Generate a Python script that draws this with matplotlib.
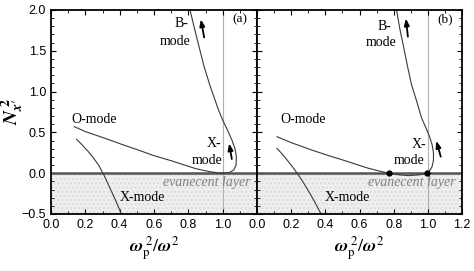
import numpy as np
import matplotlib.pyplot as plt

plt.rcParams['mathtext.fontset'] = 'stix'

# panel (a)
a_omode_x = [0.136, 0.2, 0.314, 0.41, 0.508, 0.6, 0.70, 0.77, 0.837, 0.89, 0.934, 0.97, 1.0]
a_omode_y = [0.57, 0.51, 0.428, 0.355, 0.284, 0.215, 0.153, 0.105, 0.06, 0.033, 0.016, 0.005, 0.0]
a_xlow_x = [0.149, 0.18, 0.215, 0.25, 0.28, 0.31, 0.345, 0.38, 0.41]
a_xlow_y = [0.415, 0.35, 0.27, 0.18, 0.09, -0.03, -0.19, -0.35, -0.5]
a_bmode_x = [1.0, 1.04, 1.065, 1.078, 1.08, 1.072, 1.055, 1.03, 1.0, 0.975, 0.955, 0.925, 0.89, 0.86, 0.835, 0.81]
a_bmode_y = [0.0, 0.01, 0.04, 0.10, 0.20, 0.30, 0.40, 0.52, 0.65, 0.78, 0.90, 1.08, 1.32, 1.57, 1.78, 2.0]

# panel (b)
b_omode_x = [0.117, 0.2, 0.32, 0.42, 0.516, 0.6, 0.653, 0.72, 0.77, 0.83, 0.887, 0.95, 0.994]
b_omode_y = [0.447, 0.375, 0.284, 0.215, 0.153, 0.095, 0.06, 0.025, 0.0, -0.02, -0.03, -0.02, 0.0]
b_xlow_x = [0.117, 0.145, 0.175, 0.205, 0.235, 0.27, 0.305, 0.34, 0.375]
b_xlow_y = [0.305, 0.24, 0.165, 0.085, 0.0, -0.11, -0.23, -0.36, -0.5]
b_bmode_x = [0.994, 1.01, 1.025, 1.033, 1.033, 1.025, 1.01, 0.99, 0.963, 0.935, 0.905, 0.88, 0.856, 0.835, 0.817]
b_bmode_y = [0.0, 0.03, 0.08, 0.16, 0.25, 0.35, 0.45, 0.55, 0.68, 0.88, 1.08, 1.32, 1.57, 1.78, 2.0]
b_dots_x = [0.77, 0.994]
b_dots_y = [0.0, 0.0]

xticks = [0.0, 0.2, 0.4, 0.6, 0.8, 1.0, 1.2]
yticks = [-0.5, 0.0, 0.5, 1.0, 1.5, 2.0]

serif = 'Liberation Serif'
sans = 'Liberation Sans'
line_c = '#3a3a3a'

fig = plt.figure(figsize=(4.74, 2.71), dpi=100)
ax1 = fig.add_axes([51/474, 57/271, 206/474, 204/271])
ax2 = fig.add_axes([257/474, 57/271, 205/474, 204/271])


def setup(ax, panel):
	ax.set_xlim(0, 1.2)
	ax.set_ylim(-0.5, 2.0)
	ax.axhspan(-0.5, 0.0, facecolor='#efefef', edgecolor='#dcdcdc', hatch='....', lw=0, zorder=0)
	ax.axhline(0.0, color='#555555', lw=1.8, zorder=2)
	ax.axvline(1.0, color='#b0b0b0', lw=0.8, zorder=1)
	ax.set_xticks(xticks)
	ax.set_yticks(yticks)
	ax.set_xticks(np.arange(0, 1.21, 0.1), minor=True)
	ax.set_yticks(np.arange(-0.5, 2.01, 0.1), minor=True)
	ax.tick_params(which='both', direction='in', top=True, right=True, labelsize=9)
	ax.tick_params(which='major', length=3.5, width=0.8)
	ax.tick_params(which='minor', length=2, width=0.6)
	for s in ax.spines.values():
		s.set_linewidth(1.3)
	for lab in ax.get_xticklabels() + ax.get_yticklabels():
		lab.set_family(sans)
	ax.set_xlabel(r'$\boldsymbol{\omega}_{\mathrm{p}}^{\ 2}/\boldsymbol{\omega}^{2}$', fontsize=13, labelpad=2)
	ax.text(1.1, 1.89, panel, fontsize=9.5, family=serif, ha='center', va='center')
	ax.text(0.65, -0.12, 'evanecent layer', fontsize=10, family=serif, style='italic',
		color='#808080', ha='left', va='center', clip_on=True)


setup(ax1, '(a)')
setup(ax2, '(b)')

ax1.plot(a_omode_x, a_omode_y, color=line_c, lw=0.8)
ax1.plot(a_xlow_x, a_xlow_y, color=line_c, lw=0.8)
ax1.plot(a_bmode_x, a_bmode_y, color=line_c, lw=0.8)

ax2.plot(b_omode_x, b_omode_y, color=line_c, lw=0.8)
ax2.plot(b_xlow_x, b_xlow_y, color=line_c, lw=0.8)
ax2.plot(b_bmode_x, b_bmode_y, color=line_c, lw=0.8)
ax2.plot(b_dots_x, b_dots_y, 'o', color='black', ms=3.5, zorder=4)

arrow = dict(arrowstyle='-|>,head_length=0.4,head_width=0.15', color='black', lw=1.3)
ax1.annotate('', xy=(0.87, 1.92), xytext=(0.895, 1.63), arrowprops=arrow)
ax1.annotate('', xy=(1.035, 0.40), xytext=(1.056, 0.14), arrowprops=arrow)
ax2.annotate('', xy=(0.87, 1.93), xytext=(0.885, 1.64), arrowprops=arrow)
ax2.annotate('', xy=(1.045, 0.43), xytext=(1.08, 0.17), arrowprops=arrow)

lab = dict(fontsize=10, family=serif, va='center')
ax1.text(0.12, 0.66, 'O-mode', ha='left', **lab)
ax1.text(0.53, -0.30, 'X-mode', ha='center', **lab)
ax1.text(0.76, 1.84, 'B-', ha='center', **lab)
ax1.text(0.72, 1.62, 'mode', ha='center', **lab)
ax1.text(0.95, 0.36, 'X-', ha='center', **lab)
ax1.text(0.91, 0.15, 'mode', ha='center', **lab)

ax2.text(0.135, 0.66, 'O-mode', ha='left', **lab)
ax2.text(0.53, -0.30, 'X-mode', ha='center', **lab)
ax2.text(0.745, 1.80, 'B-', ha='center', **lab)
ax2.text(0.725, 1.60, 'mode', ha='center', **lab)
ax2.text(0.95, 0.35, 'X-', ha='center', **lab)
ax2.text(0.89, 0.15, 'mode', ha='center', **lab)

labels = ['0.0', '0.2', '0.4', '0.6', '0.8', '1.0', '']
ax1.set_xticklabels(labels, family=sans)
ax2.set_yticklabels([])
ax1.set_ylabel(r"$\mathbfit{N}_{\mathbfit{x}\prime}^{\ \mathbf{2}}$", fontsize=14)
ax1.yaxis.set_label_coords(-0.12, 0.5)

fig.savefig('out.png', dpi=100)
